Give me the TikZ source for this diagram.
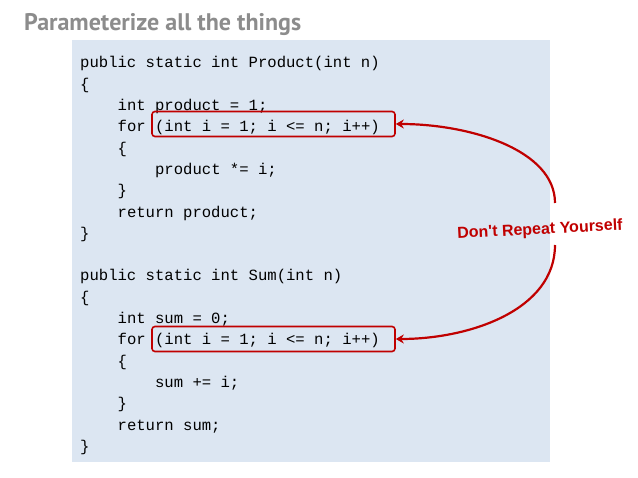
\documentclass[tikz,border=0pt]{standalone}
\usepackage{fontspec}
\usetikzlibrary{arrows.meta}
\setmonofont{Liberation Mono}
\newfontfamily\titlefont{PT Sans}
\newfontfamily\handfont{Liberation Sans}
\definecolor{codebg}{HTML}{DCE6F2}
\definecolor{dryred}{HTML}{C00000}
\definecolor{titlegray}{HTML}{8C8C8C}
\begin{document}
\begin{tikzpicture}[x=1pt,y=-1pt,
  codeline/.style={anchor=base west,inner sep=0pt,font=\ttfamily\fontsize{15.6}{18}\selectfont},
  hl/.style={draw=dryred,line width=1.6pt,rounded corners=3pt,minimum width=243pt,minimum height=25pt,inner sep=0pt},
  dryarrow/.style={draw=dryred,line width=2.2pt,-{Stealth[length=8pt,width=9pt]}}]
\useasboundingbox (0,0) rectangle (638,478);
\fill[codebg] (72,40) rectangle (550,462);
\node[anchor=base west,inner sep=0pt,text=titlegray,font=\titlefont\bfseries\fontsize{24}{28}\selectfont] (title) at (24,31) {Parameterize all the things};
\foreach \t [count=\i from 0] in {
 {public static int Product(int n)},
 {\{},
 {\ \ \ \ int product = 1;},
 {\ \ \ \ for (int i = 1; i <= n; i++)},
 {\ \ \ \ \{},
 {\ \ \ \ \ \ \ \ product *= i;},
 {\ \ \ \ \}},
 {\ \ \ \ return product;},
 {\}},
 {},
 {public static int Sum(int n)},
 {\{},
 {\ \ \ \ int sum = 0;},
 {\ \ \ \ for (int i = 1; i <= n; i++)},
 {\ \ \ \ \{},
 {\ \ \ \ \ \ \ \ sum += i;},
 {\ \ \ \ \}},
 {\ \ \ \ return sum;},
 {\}}}
  \node[codeline] (l\i) at (80,{68+21.3*\i}) {\t};
\node[hl] (box1) at (273.5,124) {};
\node[hl] (box2) at (273.5,339) {};
\node[text=dryred,font=\handfont\bfseries\fontsize{16}{20}\selectfont,rotate=3,inner sep=1pt] (dry) at (540,230) {Don't Repeat Yourself};
\coordinate (c1) at (555,203);
\coordinate (c2) at (555,245);
\draw[dryarrow] (c1) .. controls (555,150) and (470,124) .. (box1.east);
\draw[dryarrow] (c2) .. controls (555,310) and (470,339) .. (box2.east);
\end{tikzpicture}
\end{document}
